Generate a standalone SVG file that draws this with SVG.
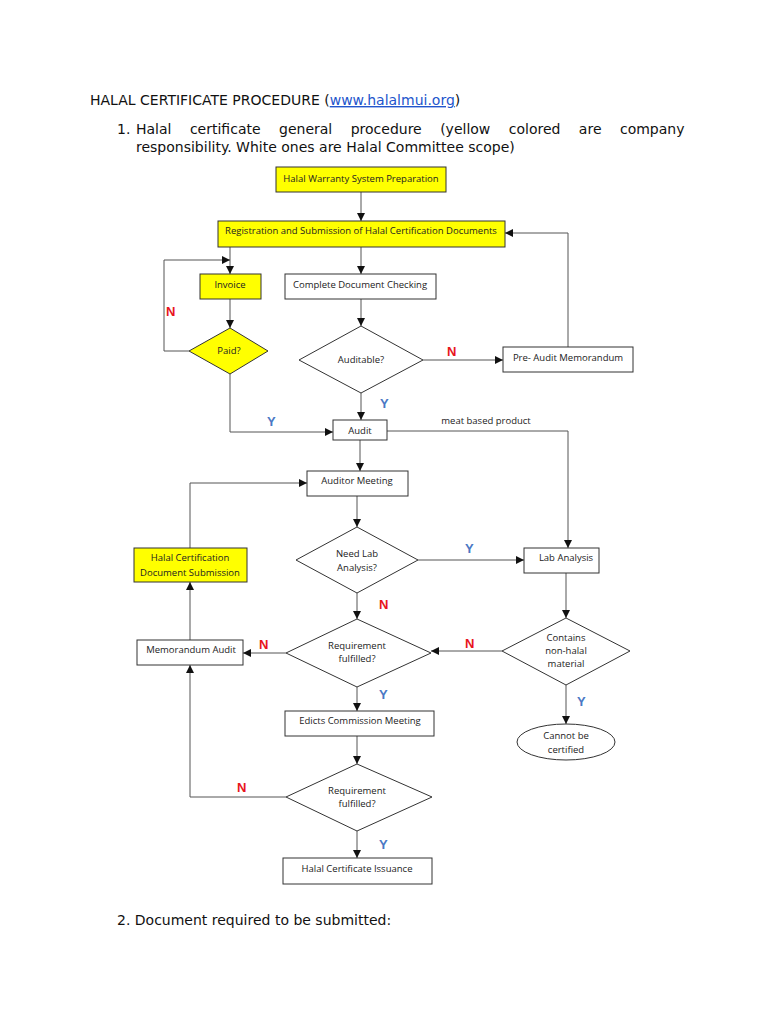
<svg xmlns="http://www.w3.org/2000/svg" width="768" height="1024" viewBox="0 0 768 1024">
<style>
.doc{font-family:"DejaVu Sans",sans-serif;font-size:14px;fill:#111}
.n rect,.n polygon,.n ellipse{stroke:#333;stroke-width:1;fill:#fff}
.y rect,.y polygon{fill:#ffff00}
.t{font-family:"Open Sans","Noto Sans",sans-serif;font-size:9.5px;fill:#222;text-anchor:middle}
.c{fill:none;stroke:#555;stroke-width:1;marker-end:url(#a)}
.N{font-family:"Liberation Sans",sans-serif;font-weight:bold;font-size:13px;fill:#e8141c}
.Y{font-family:"Liberation Sans",sans-serif;font-weight:bold;font-size:13px;fill:#4a77c4}
</style>
<defs><marker id="a" viewBox="0 0 10 10" refX="10" refY="5" markerWidth="8" markerHeight="8" orient="auto" markerUnits="userSpaceOnUse"><path d="M0,0L10,5L0,10z" fill="#111"/></marker></defs>
<rect width="768" height="1024" fill="#fff"/>
<text class="doc" x="90" y="105">HALAL CERTIFICATE PROCEDURE (<tspan fill="#2255cc" text-decoration="underline">www.halalmui.org</tspan>)</text>
<text class="doc" x="117" y="134">1.</text>
<text class="doc" x="136" y="134" word-spacing="14">Halal certificate general procedure (yellow colored are company</text>
<text class="doc" x="136" y="152">responsibility. White ones are Halal Committee scope)</text>
<text class="doc" x="117" y="925">2.  Document required to be submitted:</text>

<g id="connectors">
<path class="c" d="M361,192V221"/>
<path class="c" d="M230,247V274"/>
<path class="c" d="M361,247V274"/>
<path class="c" d="M230,299V328"/>
<path class="c" d="M189,351H164V260H230"/>
<path class="c" d="M361,299V326"/>
<path class="c" d="M423,360H503"/>
<path class="c" d="M568,347V233H505"/>
<path class="c" d="M361,393V420"/>
<path class="c" d="M230,374V432H333"/>
<path class="c" d="M360,440V471"/>
<path class="c" d="M387,431H568V548"/>
<path class="c" d="M357,496V527"/>
<path class="c" d="M418,560H524"/>
<path class="c" d="M357,593V619"/>
<path class="c" d="M566,573V618"/>
<path class="c" d="M502,651H431"/>
<path class="c" d="M286,653H243"/>
<path class="c" d="M566,685V724"/>
<path class="c" d="M190,640V582"/>
<path class="c" d="M190,548V483H307"/>
<path class="c" d="M357,687V711"/>
<path class="c" d="M357,736V764"/>
<path class="c" d="M286,797H190V665"/>
<path class="c" d="M357,831V858"/>
</g>

<g id="hwsp" class="n y"><rect x="276" y="167" width="170" height="25"/><text class="t" x="361" y="182">Halal Warranty System Preparation</text></g>
<g id="reg" class="n y"><rect x="218" y="221" width="287" height="26"/><text class="t" x="361" y="234">Registration and Submission of Halal Certification Documents</text></g>
<g id="invoice" class="n y"><rect x="200" y="274" width="61" height="25"/><text class="t" x="230" y="288">Invoice</text></g>
<g id="check" class="n"><rect x="285" y="274" width="151" height="25"/><text class="t" x="360" y="288">Complete Document Checking</text></g>
<g id="paid" class="n y"><polygon points="230,328 268,351 230,374 189,351"/><text class="t" x="229" y="354">Paid?</text></g>
<g id="auditable" class="n"><polygon points="361,326 423,360 361,393 299,360"/><text class="t" x="361" y="363">Auditable?</text></g>
<g id="preaudit" class="n"><rect x="503" y="347" width="130" height="25"/><text class="t" x="568" y="361">Pre- Audit Memorandum</text></g>
<g id="audit" class="n"><rect x="333" y="420" width="54" height="20"/><text class="t" x="360" y="434">Audit</text></g>
<text class="t" x="486" y="424">meat based product</text>
<g id="auditor" class="n"><rect x="307" y="471" width="101" height="25"/><text class="t" x="357" y="484">Auditor Meeting</text></g>
<g id="needlab" class="n"><polygon points="357,527 418,560 357,593 296,560"/><text class="t" x="357" y="557">Need Lab</text><text class="t" x="357" y="571">Analysis?</text></g>
<g id="lab" class="n"><rect x="524" y="548" width="75" height="25"/><text class="t" x="566" y="561">Lab Analysis</text></g>
<g id="hcds" class="n y"><rect x="134" y="548" width="113" height="34"/><text class="t" x="190" y="561">Halal Certification</text><text class="t" x="190" y="576">Document Submission</text></g>
<g id="req1" class="n"><polygon points="357,619 431,653 357,687 286,653"/><text class="t" x="357" y="649">Requirement</text><text class="t" x="357" y="662">fulfilled?</text></g>
<g id="memo" class="n"><rect x="137" y="640" width="106" height="25"/><text class="t" x="191" y="653">Memorandum  Audit</text></g>
<g id="contains" class="n"><polygon points="566,618 630,651 566,685 502,651"/><text class="t" x="566" y="641">Contains</text><text class="t" x="566" y="654">non-halal</text><text class="t" x="566" y="667">material</text></g>
<g id="cannot" class="n"><ellipse cx="566" cy="742" rx="49" ry="18"/><text class="t" x="566" y="739" font-size="10">Cannot be</text><text class="t" x="566" y="753" font-size="10">certified</text></g>
<g id="edicts" class="n"><rect x="285" y="711" width="149" height="25"/><text class="t" x="360" y="724">Edicts Commission Meeting</text></g>
<g id="req2" class="n"><polygon points="357,764 432,797 357,831 286,797"/><text class="t" x="357" y="794">Requirement</text><text class="t" x="357" y="807">fulfilled?</text></g>
<g id="issuance" class="n"><rect x="283" y="858" width="149" height="26"/><text class="t" x="357" y="872">Halal Certificate Issuance</text></g>

<text class="N" x="166" y="316">N</text>
<text class="N" x="447" y="356">N</text>
<text class="Y" x="380" y="408">Y</text>
<text class="Y" x="267" y="426">Y</text>
<text class="Y" x="465" y="553">Y</text>
<text class="N" x="379" y="609">N</text>
<text class="N" x="259" y="649">N</text>
<text class="N" x="465" y="648">N</text>
<text class="Y" x="379" y="699">Y</text>
<text class="Y" x="577" y="706">Y</text>
<text class="N" x="237" y="792">N</text>
<text class="Y" x="379" y="849">Y</text>
</svg>
